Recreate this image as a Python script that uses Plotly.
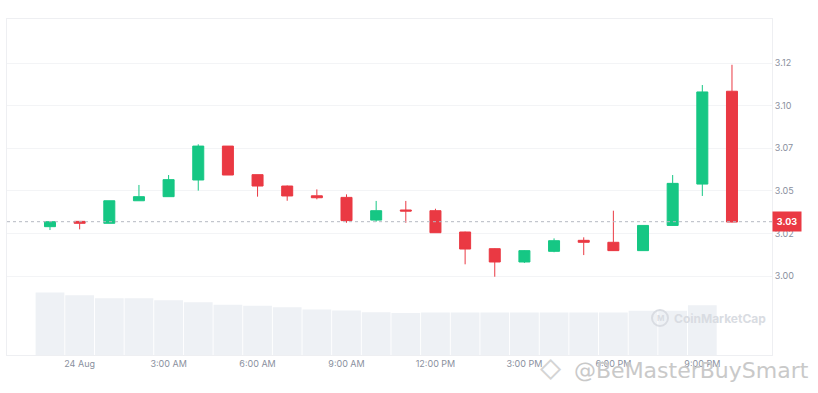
import plotly.graph_objects as go

# ---- data ----
times = ["2024-08-23 23:00", "2024-08-24 00:00", "2024-08-24 01:00", "2024-08-24 02:00",
         "2024-08-24 03:00", "2024-08-24 04:00", "2024-08-24 05:00", "2024-08-24 06:00",
         "2024-08-24 07:00", "2024-08-24 08:00", "2024-08-24 09:00", "2024-08-24 10:00",
         "2024-08-24 11:00", "2024-08-24 12:00", "2024-08-24 13:00", "2024-08-24 14:00",
         "2024-08-24 15:00", "2024-08-24 16:00", "2024-08-24 17:00", "2024-08-24 18:00",
         "2024-08-24 19:00", "2024-08-24 20:00", "2024-08-24 21:00", "2024-08-24 22:00"]
open_ = [3.0278, 3.0308, 3.0297, 3.0424, 3.0447, 3.0541, 3.0732, 3.0571, 3.0507, 3.0452,
         3.0443, 3.0315, 3.0372, 3.0368, 3.0248, 3.0154, 3.0079, 3.0139, 3.0201, 3.0190,
         3.0143, 3.0285, 3.0518, 3.1041]
high = [3.0306, 3.0308, 3.0424, 3.0513, 3.0569, 3.0742, 3.0732, 3.0571, 3.0510, 3.0488,
        3.0460, 3.0423, 3.0423, 3.0379, 3.0250, 3.0156, 3.0145, 3.0212, 3.0218, 3.0368,
        3.0285, 3.0569, 3.1076, 3.1190]
low = [3.0259, 3.0263, 3.0297, 3.0424, 3.0447, 3.0481, 3.0569, 3.0447, 3.0424, 3.0432,
       3.0300, 3.0306, 3.0300, 3.0244, 3.0066, 2.9996, 3.0074, 3.0134, 3.0118, 3.0141,
       3.0143, 3.0283, 3.0451, 3.0302]
close = [3.0306, 3.0297, 3.0424, 3.0447, 3.0543, 3.0732, 3.0569, 3.0507, 3.0451, 3.0441,
         3.0312, 3.0368, 3.0366, 3.0244, 3.0152, 3.0079, 3.0143, 3.0199, 3.0190, 3.0143,
         3.0285, 3.0522, 3.1037, 3.0304]
volume = [62.7, 60.0, 57.0, 57.0, 55.0, 53.0, 50.3, 49.3, 48.0, 45.7, 44.7, 43.0, 42.0,
          42.7, 42.7, 42.7, 42.7, 42.7, 42.7, 42.7, 44.3, 44.3, 50.0, 0.0]

price_ticks = [3.000, 3.024, 3.048, 3.072, 3.096, 3.120]
price_labels = ["3.00", "3.02", "3.05", "3.07", "3.10", "3.12"]
time_ticks = ["2024-08-24 00:00", "2024-08-24 03:00", "2024-08-24 06:00", "2024-08-24 09:00",
              "2024-08-24 12:00", "2024-08-24 15:00", "2024-08-24 18:00", "2024-08-24 21:00"]
time_labels = ["24 Aug", "3:00 AM", "6:00 AM", "9:00 AM", "12:00 PM", "3:00 PM", "6:00 PM", "9:00 PM"]
last_price = 3.0306
last_label = "3.03"

GREEN = "#16c784"
RED = "#ea3943"
GRAY = "#8a909e"
WM = "#d9dce2"

fig = go.Figure()

fig.add_trace(go.Bar(
    x=times, y=volume, yaxis="y2",
    width=3600000 * 0.97,
    marker=dict(color="#eef1f5", line=dict(width=0)),
    hoverinfo="skip", showlegend=False,
))

fig.add_trace(go.Candlestick(
    x=times, open=open_, high=high, low=low, close=close,
    increasing=dict(line=dict(color=GREEN, width=1), fillcolor=GREEN),
    decreasing=dict(line=dict(color=RED, width=1), fillcolor=RED),
    whiskerwidth=0, showlegend=False,
))


def px_x(px):
    return (px - 7) / 765


def px_y(py):
    return (355 - py) / 336


fig.update_layout(
    width=818, height=393,
    margin=dict(l=7, r=46, t=19, b=38),
    paper_bgcolor="white", plot_bgcolor="white",
    font=dict(family="Inter, Roboto, sans-serif", size=9, color=GRAY),
    boxgap=0.47,
    xaxis=dict(
        type="date",
        range=["2024-08-23 21:33", "2024-08-24 23:21"],
        rangeslider=dict(visible=False),
        tickvals=time_ticks, ticktext=time_labels,
        showgrid=False, zeroline=False,
        showline=True, mirror=True, linecolor="#eeeff2", linewidth=1,
        ticks="", tickfont=dict(size=9, color=GRAY),
    ),
    yaxis=dict(
        side="right",
        range=[2.9555, 3.1448],
        tickvals=price_ticks, ticktext=price_labels,
        showgrid=True, gridcolor="#f3f4f6", gridwidth=1,
        zeroline=False,
        showline=True, mirror=True, linecolor="#eeeff2", linewidth=1,
        ticks="", tickfont=dict(size=9, color=GRAY),
    ),
    yaxis2=dict(
        overlaying="y", range=[0, 337], visible=False, fixedrange=True,
    ),
    shapes=[
        dict(type="line", xref="paper", x0=0, x1=1, yref="y", y0=last_price, y1=last_price,
             line=dict(color="#b5b9c2", width=1, dash="dot")),
        dict(type="circle", xref="paper", yref="paper",
             x0=px_x(652), x1=px_x(668), y0=px_y(326), y1=px_y(310),
             line=dict(color=WM, width=2)),
    ],
    annotations=[
        dict(xref="paper", x=1, xanchor="left", yref="y", y=last_price, yanchor="middle",
             text="<b>" + last_label + "</b>", showarrow=False,
             font=dict(color="white", size=9), bgcolor=RED,
             width=24, height=15, borderpad=2),
        dict(xref="paper", x=px_x(660), xanchor="center", yref="paper", y=px_y(318),
             yanchor="middle", text="<b>M</b>", showarrow=False,
             font=dict(color=WM, size=8)),
        dict(xref="paper", x=px_x(672), xanchor="left", yref="paper", y=px_y(318),
             yanchor="middle", text="<b>CoinMarketCap</b>", showarrow=False,
             font=dict(color=WM, size=12, family="Inter, sans-serif")),
        dict(xref="paper", x=px_x(572), xanchor="left", yref="paper", y=px_y(370),
             yanchor="middle", text="@BeMasterBuySmart", showarrow=False,
             font=dict(color="#c9c9c9", size=22, family="DejaVu Sans, sans-serif")),
        dict(xref="paper", x=px_x(550), xanchor="center", yref="paper", y=px_y(370),
             yanchor="middle", text="◇", showarrow=False,
             font=dict(color="#d4d4d4", size=22)),
    ],
)

fig.write_html("out.html")
